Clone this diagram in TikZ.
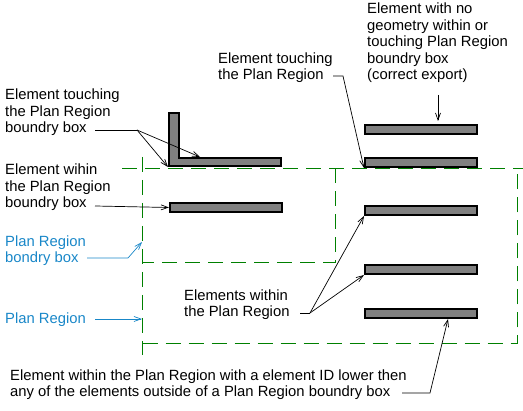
\documentclass[tikz,border=0pt]{standalone}
\usepackage{fontspec}
\setmainfont{Liberation Sans}
\usetikzlibrary{arrows.meta,positioning}

\definecolor{elemgray}{RGB}{128,128,128}
\definecolor{regiongreen}{RGB}{0,128,0}
\definecolor{regionblue}{RGB}{25,135,200}

\tikzset{
    note/.style={anchor=base west, align=left, inner sep=0pt, font=\fontsize{14.8}{16.5}\selectfont},
    bluenote/.style={note, text=regionblue},
    elem/.style={draw=black, line width=2pt, fill=elemgray, minimum width=112pt, minimum height=9pt, inner sep=0pt, anchor=north west},
    region/.style={draw=regiongreen, line width=1.1pt, dash pattern=on 15pt off 8pt},
    leader/.style={line width=0.7pt, -{Straight Barb[length=7pt,width=5pt]}},
}

\begin{document}
\begin{tikzpicture}[x=1pt,y=-1pt]
    \useasboundingbox (0,0) rectangle (523,411);

    % elements
    \draw[line width=2pt, fill=elemgray] (169,113) -- (179,113) -- (179,158) -- (281,158) -- (281,166) -- (169,166) -- cycle;
    \node[elem] (barA) at (169,202) {};
    \node[elem] (barB) at (364,124) {};
    \node[elem] (barC) at (364,157) {};
    \node[elem] (barD) at (364,205) {};
    \node[elem] (barE) at (364,264) {};
    \node[elem] (barF) at (364,308) {};
    \coordinate (Ltop) at (200,157);
    \coordinate (Lcorner) at (168,167);

    % plan region and boundry box
    \draw[region] (122,168.5) -- (523,168.5);
    \draw[region] (142.5,157) -- (142.5,355);
    \draw[region] (335.5,168.5) -- (335.5,262.5) -- (142.5,262.5);
    \draw[region] (142.5,343.5) -- (517.5,343.5) -- (517.5,168.5);

    % labels (base = last line)
    \node[note] (touchL) at (5,133) {Element touching\\the Plan Region\\boundry box};
    \node[note] (withinL) at (5,208) {Element wihin\\the Plan Region\\boundry box};
    \node[bluenote] (bbox) at (5,263) {Plan Region\\bondry box};
    \node[bluenote] (region) at (5,324) {Plan Region};
    \node[note] (withinR) at (184,317) {Elements within\\the Plan Region};
    \node[note] (lower) at (10,397) {Element within the Plan Region with a element ID lower then\\any of the elements outside of a Plan Region boundry box};
    \node[note] (touchR) at (218,80) {Element touching\\the Plan Region};
    \node[note] (noGeo) at (367,80) {Element with no\\geometry within or\\touching Plan Region\\boundry box\\(correct export)};

    % leaders
    \coordinate (touchLa) at (95,130);
    \coordinate (touchLb) at (137,130);
    \draw[line width=0.7pt] (touchLa) -- (touchLb);
    \draw[leader] (touchLb) -- (Ltop);
    \draw[leader] (touchLb) -- (Lcorner);

    \coordinate (withinLa) at (95,206);
    \draw[leader] (withinLa) -- (barA.west);

    \coordinate (bboxa) at (87,258);
    \coordinate (bboxb) at (128,258);
    \coordinate (bboxc) at (142,242);
    \draw[leader, draw=regionblue] (bboxa) -- (bboxb) -- (bboxc);

    \coordinate (regiona) at (95,319);
    \coordinate (regionb) at (142,319);
    \draw[leader, draw=regionblue] (regiona) -- (regionb);

    \coordinate (withinRa) at (300,313);
    \coordinate (withinRb) at (310,313);
    \draw[line width=0.7pt] (withinRa) -- (withinRb);
    \draw[leader] (withinRb) -- (barD.south west);
    \draw[leader] (withinRb) -- (barE.south west);

    \coordinate (lowera) at (402,393);
    \coordinate (lowerb) at (430,393);
    \coordinate (lowerc) at (448,319);
    \draw[leader] (lowera) -- (lowerb) -- (lowerc);

    \coordinate (touchRa) at (333,76);
    \coordinate (touchRb) at (343,76);
    \draw[leader] (touchRa) -- (touchRb) -- (barC.south west);

    \coordinate (noGeoa) at (438,95);
    \coordinate (noGeob) at (438,121);
    \draw[leader] (noGeoa) -- (noGeob);
\end{tikzpicture}
\end{document}
